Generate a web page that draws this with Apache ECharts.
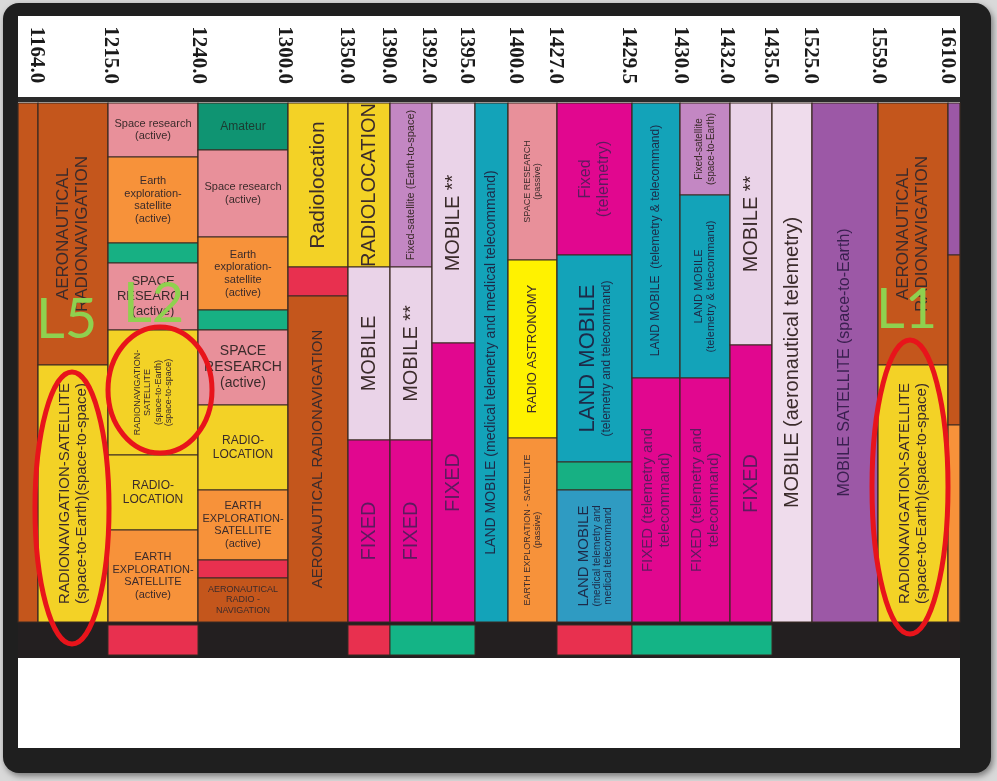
<!DOCTYPE html>
<html>
<head>
<meta charset="utf-8">
<script src="https://cdn.jsdelivr.net/npm/echarts@6/dist/echarts.min.js"></script>
<style>
  html, body { margin: 0; padding: 0; background: #d9d9d9; }
  #frame { position: absolute; left: 3px; top: 3px; width: 988px; height: 770px; background: #1f1f1f; border-radius: 16px; box-shadow: 2px 3px 6px #777; }
  #panel { position: absolute; left: 18px; top: 16px; width: 942px; height: 732px; background: #fff; }
  #rule { position: absolute; left: 18px; top: 97px; width: 942px; height: 5px; background: #2a2a2a; }
  #chart { position: absolute; left: 0; top: 0; width: 997px; height: 781px; }
</style>
</head>
<body>
<div id="frame"></div>
<div id="panel"></div>
<div id="rule"></div>
<div id="chart"></div>
<script>
// band edges (MHz) and their positions along the drawing axis
const freqLabels = ['1164.0', '1215.0', '1240.0', '1300.0', '1350.0', '1390.0', '1392.0', '1395.0', '1400.0', '1427.0', '1429.5', '1430.0', '1432.0', '1435.0', '1525.0', '1559.0', '1610.0'];
const freqEdges = [18, 92, 180, 266, 328, 370, 410, 448, 497, 537, 610, 662, 708, 752, 792, 860, 929];
// column edges (left, right) for each column
const colEdges = [0, 20, 90, 180, 270, 330, 372, 414, 457, 490, 539, 614, 662, 712, 754, 794, 860, 930, 942];

// allocations: [column, top, bottom, service, label]
const cells = [
    [0, 0, 519, 'aero', ''],
    [1, 0, 262, 'aero', 'AERONAUTICAL\nRADIONAVIGATION'],
    [1, 262, 519, 'radionav', 'RADIONAVIGATION-SATELLITE\n(space-to-Earth)(space-to-space)'],
    [2, 0, 54, 'space', 'Space research\n(active)'],
    [2, 54, 140, 'eess', 'Earth\nexploration-\nsatellite\n(active)'],
    [2, 140, 160, 'green', ''],
    [2, 160, 227, 'space', 'SPACE\nRESEARCH\n(active)'],
    [2, 227, 352, 'radionav', 'RADIONAVIGATION-\nSATELLITE\n(space-to-Earth)\n(space-to-space)'],
    [2, 352, 427, 'radionav', 'RADIO-\nLOCATION'],
    [2, 427, 519, 'eess', 'EARTH\nEXPLORATION-\nSATELLITE\n(active)'],
    [3, 0, 47, 'amateur', 'Amateur'],
    [3, 47, 134, 'space', 'Space research\n(active)'],
    [3, 134, 207, 'eess', 'Earth\nexploration-\nsatellite\n(active)'],
    [3, 207, 227, 'green', ''],
    [3, 227, 302, 'space', 'SPACE\nRESEARCH\n(active)'],
    [3, 302, 387, 'radionav', 'RADIO-\nLOCATION'],
    [3, 387, 457, 'eess', 'EARTH\nEXPLORATION-\nSATELLITE\n(active)'],
    [3, 457, 475, 'red', ''],
    [3, 475, 519, 'aero', 'AERONAUTICAL\nRADIO -\nNAVIGATION'],
    [4, 0, 164, 'radionav', 'Radiolocation'],
    [4, 164, 193, 'red', ''],
    [4, 193, 519, 'aero', 'AERONAUTICAL RADIONAVIGATION'],
    [5, 0, 164, 'radionav', 'RADIOLOCATION'],
    [5, 164, 337, 'mobile', 'MOBILE'],
    [5, 337, 519, 'fixed', 'FIXED'],
    [6, 0, 164, 'fss', 'Fixed-satellite (Earth-to-space)'],
    [6, 164, 337, 'mobile', 'MOBILE **'],
    [6, 337, 519, 'fixed', 'FIXED'],
    [7, 0, 240, 'mobile', 'MOBILE **'],
    [7, 240, 519, 'fixed', 'FIXED'],
    [8, 0, 519, 'land', 'LAND MOBILE (medical telemetry and medical telecommand)'],
    [9, 0, 157, 'space', 'SPACE RESEARCH\n(passive)'],
    [9, 157, 335, 'astro', 'RADIO ASTRONOMY'],
    [9, 335, 519, 'eess', 'EARTH EXPLORATION - SATELLITE\n(passive)'],
    [10, 0, 152, 'fixed', 'Fixed\n(telemetry)'],
    [10, 152, 359, 'land', '{b|LAND MOBILE}\n{s|(telemetry and telecommand)}'],
    [10, 359, 387, 'green', ''],
    [10, 387, 519, 'land2', '{m|LAND MOBILE}\n{t|(medical telemetry and}\n{t|medical telecommand}'],
    [11, 0, 275, 'land', 'LAND MOBILE  (telemetry & telecommand)'],
    [11, 275, 519, 'fixed', 'FIXED (telemetry and\ntelecommand)'],
    [12, 0, 92, 'fss', 'Fixed-satellite\n(space-to-Earth)'],
    [12, 92, 275, 'land', 'LAND MOBILE\n(telemetry & telecommand)'],
    [12, 275, 519, 'fixed', 'FIXED (telemetry and\ntelecommand)'],
    [13, 0, 242, 'mobile', 'MOBILE **'],
    [13, 242, 519, 'fixed', 'FIXED'],
    [14, 0, 519, 'aeromob', 'MOBILE (aeronautical telemetry)'],
    [15, 0, 519, 'mss', 'MOBILE SATELLITE (space-to-Earth)'],
    [16, 0, 262, 'aero', 'AERONAUTICAL\nRADIONAVIGATION'],
    [16, 262, 519, 'radionav', 'RADIONAVIGATION-SATELLITE\n(space-to-Earth)(space-to-space)'],
    [17, 0, 152, 'mss', ''],
    [17, 152, 322, 'aero', ''],
    [17, 322, 519, 'eess', '']
];
// label look per cell: [font size, horizontal?]
const cellFont = [
    [0, 0], [17, 0], [15, 0], [11, 1], [11, 1], [0, 0], [13, 1], [9, 0], [12, 1], [11, 1],
    [12, 1], [11, 1], [11, 1], [0, 0], [14, 1], [12, 1], [11, 1], [0, 0], [9, 1],
    [21, 0], [0, 0], [15, 0], [20, 0], [20, 0], [20, 0], [11, 0], [20, 0], [20, 0],
    [20, 0], [20, 0], [14, 0], [9, 0], [13, 0], [9, 0], [16, 0], [12, 0], [0, 0], [11, 0],
    [12, 0], [15, 0], [10, 0], [11, 0], [15, 0], [20, 0], [20, 0], [20, 0], [16, 0],
    [17, 0], [15, 0], [0, 0], [0, 0], [0, 0]
];
// bottom strip blocks: [left column, right column, service]
const strip = [[2, 2, 'red'], [5, 5, 'red'], [6, 7, 'greenb'], [10, 10, 'red'], [11, 13, 'greenb']];

const serviceColor = {
    aero: '#c4561c', radionav: '#f3d226', space: '#e8909a', eess: '#f7923a', green: '#17b083',
    amateur: '#0f9472', red: '#e8304f', mobile: '#ead3e8', fixed: '#e1078f', fss: '#c387c3',
    land: '#13a3b9', land2: '#2f9bc2', astro: '#fff200', aeromob: '#efdcec', mss: '#9c58a6',
    greenb: '#14b486', black: '#231f20'
};
const serviceText = { fixed: '#5c1b5e', land: '#1d2a48', land2: '#1d2a48', mss: '#3a2050', amateur: '#1c3a30' };

const chart = echarts.init(document.getElementById('chart'));
const narrow = '"Liberation Sans Narrow", "Liberation Sans", Arial, sans-serif';

function cellItem (params, api) {
    const i = params.dataIndex;
    const c = cells[i];
    const p0 = api.coord([colEdges[c[0]], c[1]]);
    const p1 = api.coord([colEdges[c[0] + 1], c[2]]);
    const children = [{
        type: 'rect',
        shape: { x: p0[0], y: p0[1], width: p1[0] - p0[0], height: p1[1] - p0[1] },
        style: { fill: serviceColor[c[3]], stroke: '#3b2a22', lineWidth: 1.2 }
    }];
    const f = cellFont[i];
    if (c[4] && f[0]) {
        const fill = serviceText[c[3]] || '#3b2b2b';
        children.push({
            type: 'text',
            x: (p0[0] + p1[0]) / 2,
            y: (p0[1] + p1[1]) / 2,
            rotation: f[1] ? 0 : Math.PI / 2,
            style: {
                text: c[4], align: 'center', verticalAlign: 'middle',
                fontFamily: narrow, fontSize: f[0], lineHeight: f[0] * 1.15, fill,
                rich: {
                    b: { fontFamily: narrow, fontSize: 22, lineHeight: 24, fill, align: 'center' },
                    s: { fontFamily: narrow, fontSize: 12, lineHeight: 14, fill, align: 'center' },
                    m: { fontFamily: narrow, fontSize: 15, lineHeight: 17, fill, align: 'center' },
                    t: { fontFamily: narrow, fontSize: 10, lineHeight: 11, fill, align: 'center' }
                }
            }
        });
    }
    return { type: 'group', children };
}

function stripItem (params, api) {
    const s = strip[params.dataIndex];
    const p0 = api.coord([colEdges[s[0]], 522]);
    const p1 = api.coord([colEdges[s[1] + 1], 552]);
    return {
        type: 'rect',
        shape: { x: p0[0], y: p0[1], width: p1[0] - p0[0], height: p1[1] - p0[1] },
        style: { fill: serviceColor[s[2]], stroke: '#3b2a22', lineWidth: 1 }
    };
}

function freqItem (params, api) {
    const p = api.coord([freqEdges[params.dataIndex], -48]);
    return {
        type: 'text', x: p[0], y: p[1], rotation: -Math.PI / 2,
        style: {
            text: freqLabels[params.dataIndex], align: 'center', verticalAlign: 'middle',
            fontFamily: '"Liberation Serif", "DejaVu Serif", serif', fontWeight: 'bold', fontSize: 21, fill: '#1a1a1a'
        }
    };
}

const ring = { stroke: '#e8141b', fill: null, lineWidth: 5 };
const tag = { fill: '#8fd14f', fontFamily: 'Lato, "DejaVu Sans", sans-serif', fontSize: 56 };

chart.setOption({
    animation: false,
    grid: { left: 18, right: 37, top: 103, bottom: 123 },
    xAxis: { type: 'value', min: 0, max: 942, show: false },
    yAxis: { type: 'value', min: 0, max: 555, inverse: true, show: false },
    series: [
        {
            type: 'custom', silent: true, clip: false,
            renderItem: (params, api) => {
                const p0 = api.coord([0, 519]);
                const p1 = api.coord([942, 555]);
                return { type: 'rect', shape: { x: p0[0], y: p0[1], width: p1[0] - p0[0], height: p1[1] - p0[1] }, style: { fill: serviceColor.black } };
            },
            data: [0]
        },
        { type: 'custom', silent: true, renderItem: cellItem, data: cells.map((c, i) => i) },
        { type: 'custom', silent: true, renderItem: stripItem, data: strip.map((s, i) => i) },
        { type: 'custom', silent: true, clip: false, renderItem: freqItem, data: freqLabels.map((f, i) => i) }
    ],
    graphic: [
        { type: 'text', z: 100, left: 36, top: 292, style: Object.assign({ text: 'L5' }, tag) },
        { type: 'text', z: 100, left: 123, top: 276, style: Object.assign({ text: 'L2' }, tag) },
        { type: 'text', z: 100, left: 876, top: 282, style: Object.assign({ text: 'L1' }, tag) },
        { type: 'ellipse', z: 100, shape: { cx: 72, cy: 508, rx: 37, ry: 136 }, style: ring },
        { type: 'ellipse', z: 100, shape: { cx: 160, cy: 390, rx: 52, ry: 63 }, style: ring },
        { type: 'ellipse', z: 100, shape: { cx: 910, cy: 487, rx: 38, ry: 147 }, style: ring }
    ]
});
</script>
</body>
</html>
